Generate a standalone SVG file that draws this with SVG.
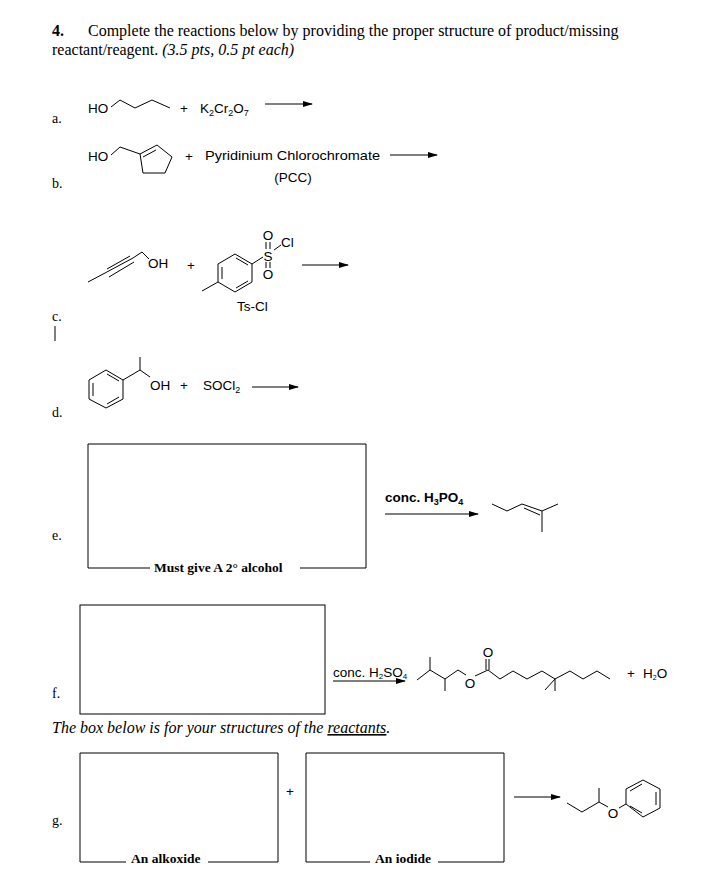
<svg xmlns="http://www.w3.org/2000/svg" width="703" height="894" viewBox="0 0 703 894">
<defs>
<marker id="ah" markerWidth="10" markerHeight="6" refX="9" refY="3" orient="auto" markerUnits="userSpaceOnUse"><path d="M0,0 L10,3 L0,6 Z" fill="#000"/></marker>
<style>
.s{font-family:"Liberation Sans",Arial,sans-serif;font-size:16px;fill:#000}
.s{font-family:"Liberation Serif",serif}
.a{font-family:"Liberation Sans",Arial,sans-serif;font-size:13.5px;fill:#000}
.b{stroke:#000;stroke-width:1;fill:none}
.box{stroke:#000;stroke-width:1;fill:none}
.arr{stroke:#000;stroke-width:1.2;fill:none;marker-end:url(#ah)}
.lb{font-family:"Liberation Serif",serif;font-size:13.5px;font-weight:bold;fill:#000}
.sub{font-size:9px}
</style>
</defs>
<rect width="703" height="894" fill="#fff"/>
<text class="s" x="52" y="36"><tspan font-weight="bold">4.</tspan><tspan x="88">Complete the reactions below by providing the proper structure of product/missing</tspan></text>
<text class="s" x="52" y="55">reactant/reagent. <tspan font-style="italic">(3.5 pts, 0.5 pt each)</tspan></text>
<g id="labels" class="s">
<text x="52" y="123" font-size="14">a.</text><text x="52" y="188" font-size="14">b.</text><text x="52" y="321" font-size="14">c.</text>
<text x="52" y="417" font-size="14">d.</text><text x="52" y="540" font-size="14">e.</text><text x="52" y="698" font-size="14">f.</text><text x="52" y="825" font-size="14">g.</text>
</g>
<line class="b" x1="55" y1="326" x2="55" y2="341"/>
<g id="a">
<text class="a" x="88" y="113">HO</text>
<polyline class="b" points="111,107 120,100 135,108 152,100 170,108"/>
<text class="a" x="180" y="113">+</text>
<text class="a" x="200" y="113">K<tspan class="sub" dy="3">2</tspan><tspan dy="-3">Cr</tspan><tspan class="sub" dy="3">2</tspan><tspan dy="-3">O</tspan><tspan class="sub" dy="3">7</tspan></text>
</g>
<g id="b">
<text class="a" x="88" y="161">HO</text>
<polyline class="b" points="111,155 120,147 140,154"/>
<polygon class="b" points="140,154 157,145 172,157 165,173 143,173"/>
<line class="b" x1="143" y1="157" x2="156" y2="150"/>
<text class="a" x="185" y="161">+</text>
<text class="a" x="205" y="160" font-size="14" textLength="175" lengthAdjust="spacingAndGlyphs">Pyridinium Chlorochromate</text>
<text class="a" x="293" y="182" text-anchor="middle">(PCC)</text>
</g>
<g id="c">
<polyline class="b" points="88,282 105,273 133,258 142,252 149,259"/>
<line class="b" x1="107" y1="269" x2="130" y2="256"/>
<line class="b" x1="109" y1="277" x2="134" y2="262"/>
<text class="a" x="148" y="268">OH</text>
<text class="a" x="187" y="270">+</text>
<polygon class="b" points="218,264 235,254 252,264 252,282 235,292 218,282"/>
<line class="b" x1="222" y1="267" x2="222" y2="279"/>
<line class="b" x1="236" y1="258" x2="248" y2="265"/>
<line class="b" x1="236" y1="288" x2="248" y2="281"/>
<line class="b" x1="218" y1="282" x2="202" y2="291"/>
<line class="b" x1="252" y1="264" x2="263" y2="257"/>
<text class="a" x="268" y="261" text-anchor="middle">S</text>
<text class="a" x="268" y="240" text-anchor="middle">O</text>
<text class="a" x="268" y="279" text-anchor="middle">O</text>
<line class="b" x1="266" y1="242" x2="266" y2="249"/><line class="b" x1="270" y1="242" x2="270" y2="249"/>
<line class="b" x1="266" y1="262" x2="266" y2="268"/><line class="b" x1="270" y1="262" x2="270" y2="268"/>
<line class="b" x1="274" y1="250" x2="281" y2="245"/>
<text class="a" x="281" y="247">Cl</text>
<text class="a" x="237" y="311">Ts-Cl</text>
</g>
<g id="d">
<polygon class="b" points="106,370 123,380 123,399 106,408 89,399 89,380"/>
<line class="b" x1="93" y1="383" x2="93" y2="396"/>
<line class="b" x1="107" y1="374" x2="119" y2="381"/>
<line class="b" x1="107" y1="404" x2="119" y2="397"/>
<polyline class="b" points="123,380 140,370 150,377"/>
<line class="b" x1="140" y1="370" x2="140" y2="357"/>
<text class="a" x="150" y="390">OH</text>
<text class="a" x="180" y="390">+</text>
<text class="a" x="203" y="390">SOCl<tspan class="sub" dy="3">2</tspan></text>
</g>
<g id="e">
<polyline class="box" points="150,568 88,568 88,444 366,444 366,568 300,568"/>
<text class="lb" x="154" y="572">Must give A 2° alcohol</text>
<text class="a" x="385" y="502" font-weight="bold">conc. H<tspan class="sub" dy="3">3</tspan><tspan dy="-3">PO</tspan><tspan class="sub" dy="3">4</tspan></text>
<polyline class="b" points="492,504 507,511 522,504 542,511 558,504"/>
<line class="b" x1="542" y1="511" x2="542" y2="532"/>
<line class="b" x1="524" y1="508" x2="540" y2="515"/>
</g>
<g id="f">
<rect class="box" x="80" y="605" width="245" height="109"/>
<text class="a" x="333" y="677" font-size="11">conc. H<tspan font-size="8" dy="2">2</tspan><tspan dy="-2">SO</tspan><tspan font-size="8" dy="2">4</tspan></text>
<polyline class="b" points="417,680 430,670 445,679 458,670 466,675"/>
<line class="b" x1="430" y1="670" x2="430" y2="657"/>
<line class="b" x1="445" y1="679" x2="445" y2="691"/>
<text class="a" x="470" y="688" font-size="11" text-anchor="middle">O</text>
<polyline class="b" points="475,676 488,670 500,679 513,671 527,679 542,671 555,679 570,671 583,679 597,671 610,679"/>
<line class="b" x1="486" y1="670" x2="486" y2="659"/><line class="b" x1="489" y1="670" x2="489" y2="659"/>
<text class="a" x="488" y="657" font-size="10" text-anchor="middle">O</text>
<line class="b" x1="555" y1="679" x2="555" y2="691"/>
<line class="b" x1="555" y1="679" x2="545" y2="690"/>
<text class="a" x="627" y="678" font-size="10">+</text>
<text class="a" x="643" y="678" font-size="10">H<tspan font-size="7" dy="2">2</tspan><tspan dy="-2">O</tspan></text>
</g>
<text class="s" x="52" y="733" font-style="italic">The box below is for your structures of the <tspan text-decoration="underline">reactants</tspan>.</text>
<g id="g">
<polyline class="box" points="126,862 80,862 80,753 278,753 278,862 208,862"/>
<polyline class="box" points="370,862 306,862 306,753 504,753 504,862 438,862"/>
<text class="lb" x="131" y="863">An alkoxide</text>
<text class="lb" x="375" y="863">An iodide</text>
<text class="a" x="286" y="796" font-size="10">+</text>
<polyline class="b" points="567,803 582,812 599,802 608,807"/>
<line class="b" x1="599" y1="802" x2="599" y2="788"/>
<text class="a" x="613" y="818" text-anchor="middle">O</text>
<line class="b" x1="619" y1="808" x2="626" y2="804"/>
<polygon class="b" points="626,804 626,789 643,780 660,789 660,808 643,817"/>
<line class="b" x1="656" y1="792" x2="656" y2="805"/>
<line class="b" x1="630" y1="791" x2="642" y2="784"/>
<line class="b" x1="630" y1="806" x2="642" y2="813"/>
</g>
<g id="connectors">
<line class="arr" x1="265" y1="104" x2="312" y2="104"/>
<line class="arr" x1="390" y1="155" x2="437" y2="155"/>
<line class="arr" x1="302" y1="265" x2="348" y2="265"/>
<line class="arr" x1="252" y1="387" x2="298" y2="387"/>
<line class="arr" x1="385" y1="514" x2="478" y2="514"/>
<line class="arr" x1="333" y1="681" x2="405" y2="681"/>
<line class="arr" x1="514" y1="797" x2="560" y2="797"/>
</g>
</svg>
